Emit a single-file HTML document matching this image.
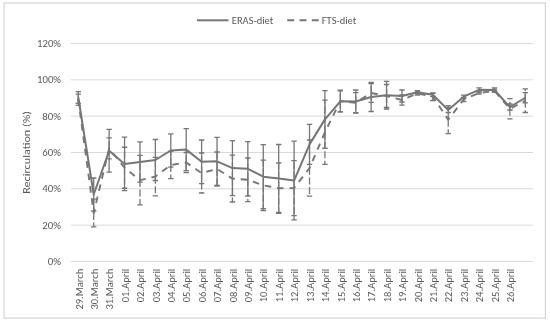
<!DOCTYPE html>
<html><head><meta charset="utf-8"><title>Recirculation chart</title><style>
html,body{margin:0;padding:0;background:#fff;overflow:hidden}
svg{display:block}
text{font-family:Carlito,"Liberation Sans",sans-serif;font-size-adjust:cap-height 0.6416;fill:#595959}
</style></head><body>
<svg width="550" height="323" viewBox="0 0 550 323">
<rect x="0" y="0" width="550" height="323" fill="#fff"/>
<rect x="4" y="3" width="541.4" height="315.1" fill="none" stroke="#d4d4d4" stroke-width="1.2"/>
<line x1="6" y1="314.5" x2="543" y2="314.5" stroke="#f7f7f7" stroke-width="1"/>
<line x1="70.60" y1="261.50" x2="533.00" y2="261.50" stroke="#d9d9d9" stroke-width="1"/>
<line x1="70.60" y1="225.17" x2="533.00" y2="225.17" stroke="#d9d9d9" stroke-width="1"/>
<line x1="70.60" y1="188.83" x2="533.00" y2="188.83" stroke="#d9d9d9" stroke-width="1"/>
<line x1="70.60" y1="152.50" x2="533.00" y2="152.50" stroke="#d9d9d9" stroke-width="1"/>
<line x1="70.60" y1="116.17" x2="533.00" y2="116.17" stroke="#d9d9d9" stroke-width="1"/>
<line x1="70.60" y1="79.83" x2="533.00" y2="79.83" stroke="#d9d9d9" stroke-width="1"/>
<line x1="70.60" y1="43.50" x2="533.00" y2="43.50" stroke="#d9d9d9" stroke-width="1"/>
<text x="61.0" y="265.10" font-size="10.5" text-anchor="end" textLength="13.33" lengthAdjust="spacingAndGlyphs">0%</text>
<text x="61.0" y="228.77" font-size="10.5" text-anchor="end" textLength="18.65" lengthAdjust="spacingAndGlyphs">20%</text>
<text x="61.0" y="192.43" font-size="10.5" text-anchor="end" textLength="18.65" lengthAdjust="spacingAndGlyphs">40%</text>
<text x="61.0" y="156.10" font-size="10.5" text-anchor="end" textLength="18.65" lengthAdjust="spacingAndGlyphs">60%</text>
<text x="61.0" y="119.77" font-size="10.5" text-anchor="end" textLength="18.65" lengthAdjust="spacingAndGlyphs">80%</text>
<text x="61.0" y="83.43" font-size="10.5" text-anchor="end" textLength="23.97" lengthAdjust="spacingAndGlyphs">100%</text>
<text x="61.0" y="47.10" font-size="10.5" text-anchor="end" textLength="23.97" lengthAdjust="spacingAndGlyphs">120%</text>
<text transform="translate(29.8,152.4) rotate(-90)" font-size="10.9" text-anchor="middle" textLength="82.89" lengthAdjust="spacingAndGlyphs">Recirculation (%)</text>
<text transform="translate(82.51,268.8) rotate(-90)" font-size="10.5" text-anchor="end" textLength="40.76" lengthAdjust="spacingAndGlyphs">29.March</text>
<text transform="translate(97.92,268.8) rotate(-90)" font-size="10.5" text-anchor="end" textLength="40.76" lengthAdjust="spacingAndGlyphs">30.March</text>
<text transform="translate(113.33,268.8) rotate(-90)" font-size="10.5" text-anchor="end" textLength="40.76" lengthAdjust="spacingAndGlyphs">31.March</text>
<text transform="translate(128.75,268.8) rotate(-90)" font-size="10.5" text-anchor="end" textLength="33.43" lengthAdjust="spacingAndGlyphs">01.April</text>
<text transform="translate(144.16,268.8) rotate(-90)" font-size="10.5" text-anchor="end" textLength="33.43" lengthAdjust="spacingAndGlyphs">02.April</text>
<text transform="translate(159.57,268.8) rotate(-90)" font-size="10.5" text-anchor="end" textLength="33.43" lengthAdjust="spacingAndGlyphs">03.April</text>
<text transform="translate(174.99,268.8) rotate(-90)" font-size="10.5" text-anchor="end" textLength="33.43" lengthAdjust="spacingAndGlyphs">04.April</text>
<text transform="translate(190.40,268.8) rotate(-90)" font-size="10.5" text-anchor="end" textLength="33.43" lengthAdjust="spacingAndGlyphs">05.April</text>
<text transform="translate(205.81,268.8) rotate(-90)" font-size="10.5" text-anchor="end" textLength="33.43" lengthAdjust="spacingAndGlyphs">06.April</text>
<text transform="translate(221.23,268.8) rotate(-90)" font-size="10.5" text-anchor="end" textLength="33.43" lengthAdjust="spacingAndGlyphs">07.April</text>
<text transform="translate(236.64,268.8) rotate(-90)" font-size="10.5" text-anchor="end" textLength="33.43" lengthAdjust="spacingAndGlyphs">08.April</text>
<text transform="translate(252.05,268.8) rotate(-90)" font-size="10.5" text-anchor="end" textLength="33.43" lengthAdjust="spacingAndGlyphs">09.April</text>
<text transform="translate(267.47,268.8) rotate(-90)" font-size="10.5" text-anchor="end" textLength="33.43" lengthAdjust="spacingAndGlyphs">10.April</text>
<text transform="translate(282.88,268.8) rotate(-90)" font-size="10.5" text-anchor="end" textLength="33.43" lengthAdjust="spacingAndGlyphs">11.April</text>
<text transform="translate(298.29,268.8) rotate(-90)" font-size="10.5" text-anchor="end" textLength="33.43" lengthAdjust="spacingAndGlyphs">12.April</text>
<text transform="translate(313.71,268.8) rotate(-90)" font-size="10.5" text-anchor="end" textLength="33.43" lengthAdjust="spacingAndGlyphs">13.April</text>
<text transform="translate(329.12,268.8) rotate(-90)" font-size="10.5" text-anchor="end" textLength="33.43" lengthAdjust="spacingAndGlyphs">14.April</text>
<text transform="translate(344.53,268.8) rotate(-90)" font-size="10.5" text-anchor="end" textLength="33.43" lengthAdjust="spacingAndGlyphs">15.April</text>
<text transform="translate(359.95,268.8) rotate(-90)" font-size="10.5" text-anchor="end" textLength="33.43" lengthAdjust="spacingAndGlyphs">16.April</text>
<text transform="translate(375.36,268.8) rotate(-90)" font-size="10.5" text-anchor="end" textLength="33.43" lengthAdjust="spacingAndGlyphs">17.April</text>
<text transform="translate(390.77,268.8) rotate(-90)" font-size="10.5" text-anchor="end" textLength="33.43" lengthAdjust="spacingAndGlyphs">18.April</text>
<text transform="translate(406.19,268.8) rotate(-90)" font-size="10.5" text-anchor="end" textLength="33.43" lengthAdjust="spacingAndGlyphs">19.April</text>
<text transform="translate(421.60,268.8) rotate(-90)" font-size="10.5" text-anchor="end" textLength="33.43" lengthAdjust="spacingAndGlyphs">20.April</text>
<text transform="translate(437.01,268.8) rotate(-90)" font-size="10.5" text-anchor="end" textLength="33.43" lengthAdjust="spacingAndGlyphs">21.April</text>
<text transform="translate(452.43,268.8) rotate(-90)" font-size="10.5" text-anchor="end" textLength="33.43" lengthAdjust="spacingAndGlyphs">22.April</text>
<text transform="translate(467.84,268.8) rotate(-90)" font-size="10.5" text-anchor="end" textLength="33.43" lengthAdjust="spacingAndGlyphs">23.April</text>
<text transform="translate(483.25,268.8) rotate(-90)" font-size="10.5" text-anchor="end" textLength="33.43" lengthAdjust="spacingAndGlyphs">24.April</text>
<text transform="translate(498.67,268.8) rotate(-90)" font-size="10.5" text-anchor="end" textLength="33.43" lengthAdjust="spacingAndGlyphs">25.April</text>
<text transform="translate(514.08,268.8) rotate(-90)" font-size="10.5" text-anchor="end" textLength="33.43" lengthAdjust="spacingAndGlyphs">26.April</text>
<path d="M78.31 99.70V94.10M78.31 99.70V105.30M93.72 213.00V199.20M93.72 213.00V226.80M109.13 148.35V137.90M109.13 148.35V158.80M124.55 167.75V147.25M124.55 167.75V188.25M139.96 180.10V155.30M139.96 180.10V204.90M155.37 176.65V157.40M155.37 176.65V195.90M170.79 165.00V151.30M170.79 165.00V178.70M186.20 162.50V152.50M186.20 162.50V172.50M201.61 173.00V153.00M201.61 173.00V193.00M217.03 169.00V152.00M217.03 169.00V186.00M232.44 178.60V155.20M232.44 178.60V202.00M247.85 179.80V158.00M247.85 179.80V201.60M263.27 185.30V160.10M263.27 185.30V210.50M278.68 188.20V163.00M278.68 188.20V213.40M294.09 188.10V160.60M294.09 188.10V215.60M309.51 168.10V140.00M309.51 168.10V196.20M324.92 132.25V100.20M324.92 132.25V164.30M340.33 101.00V90.20M340.33 101.00V111.80M355.75 102.70V92.70M355.75 102.70V112.70M371.16 93.00V83.70M371.16 93.00V102.30M386.57 96.00V84.50M386.57 96.00V107.50M401.99 100.00V94.80M401.99 100.00V105.20M417.40 93.50V92.00M417.40 93.50V95.00M432.81 96.70V92.90M432.81 96.70V100.50M448.23 119.65V105.70M448.23 119.65V133.60M463.64 99.50V97.50M463.64 99.50V101.50M479.05 93.00V92.00M479.05 93.00V94.00M494.47 91.00V90.00M494.47 91.00V92.00M509.88 108.80V98.70M509.88 108.80V118.90M525.29 100.70V88.90M525.29 100.70V112.50" stroke="#767676" stroke-width="1.3" fill="none" stroke-dasharray="7 2.5"/>
<path d="M75.61 94.10H81.01M75.61 105.30H81.01M91.02 199.20H96.42M91.02 226.80H96.42M106.43 137.90H111.83M106.43 158.80H111.83M121.85 147.25H127.25M121.85 188.25H127.25M137.26 155.30H142.66M137.26 204.90H142.66M152.67 157.40H158.07M152.67 195.90H158.07M168.09 151.30H173.49M168.09 178.70H173.49M183.50 152.50H188.90M183.50 172.50H188.90M198.91 153.00H204.31M198.91 193.00H204.31M214.33 152.00H219.73M214.33 186.00H219.73M229.74 155.20H235.14M229.74 202.00H235.14M245.15 158.00H250.55M245.15 201.60H250.55M260.57 160.10H265.97M260.57 210.50H265.97M275.98 163.00H281.38M275.98 213.40H281.38M291.39 160.60H296.79M291.39 215.60H296.79M306.81 140.00H312.21M306.81 196.20H312.21M322.22 100.20H327.62M322.22 164.30H327.62M337.63 90.20H343.03M337.63 111.80H343.03M353.05 92.70H358.45M353.05 112.70H358.45M368.46 83.70H373.86M368.46 102.30H373.86M383.87 84.50H389.27M383.87 107.50H389.27M399.29 94.80H404.69M399.29 105.20H404.69M414.70 92.00H420.10M414.70 95.00H420.10M430.11 92.90H435.51M430.11 100.50H435.51M445.53 105.70H450.93M445.53 133.60H450.93M460.94 97.50H466.34M460.94 101.50H466.34M476.35 92.00H481.75M476.35 94.00H481.75M491.77 90.00H497.17M491.77 92.00H497.17M507.18 98.70H512.58M507.18 118.90H512.58M522.59 88.90H527.99M522.59 112.50H527.99" stroke="#767676" stroke-width="1.3" fill="none"/>
<path d="M78.31 91.60V103.40M93.72 178.00V211.00M109.13 129.40V172.10M124.55 137.20V190.60M139.96 141.90V182.10M155.37 139.50V180.50M170.79 133.90V167.10M186.20 128.60V170.60M201.61 140.00V183.60M217.03 137.30V185.30M232.44 140.60V195.60M247.85 141.60V196.00M263.27 144.70V208.60M278.68 144.50V212.30M294.09 141.20V219.90M309.51 124.40V164.30M324.92 90.55V148.25M340.33 90.80V111.80M355.75 90.00V113.00M371.16 82.50V111.50M386.57 81.30V109.00M401.99 90.00V102.00M417.40 90.70V93.70M432.81 93.30V96.30M448.23 107.50V112.50M463.64 95.20V98.20M479.05 87.80V91.80M494.47 88.00V92.00M509.88 104.00V110.00M525.29 92.70V102.80" stroke="#767676" stroke-width="1.3" fill="none"/>
<path d="M75.61 91.60H81.01M75.61 103.40H81.01M91.02 178.00H96.42M91.02 211.00H96.42M106.43 129.40H111.83M106.43 172.10H111.83M121.85 137.20H127.25M121.85 190.60H127.25M137.26 141.90H142.66M137.26 182.10H142.66M152.67 139.50H158.07M152.67 180.50H158.07M168.09 133.90H173.49M168.09 167.10H173.49M183.50 128.60H188.90M183.50 170.60H188.90M198.91 140.00H204.31M198.91 183.60H204.31M214.33 137.30H219.73M214.33 185.30H219.73M229.74 140.60H235.14M229.74 195.60H235.14M245.15 141.60H250.55M245.15 196.00H250.55M260.57 144.70H265.97M260.57 208.60H265.97M275.98 144.50H281.38M275.98 212.30H281.38M291.39 141.20H296.79M291.39 219.90H296.79M306.81 124.40H312.21M306.81 164.30H312.21M322.22 90.55H327.62M322.22 148.25H327.62M337.63 90.80H343.03M337.63 111.80H343.03M353.05 90.00H358.45M353.05 113.00H358.45M368.46 82.50H373.86M368.46 111.50H373.86M383.87 81.30H389.27M383.87 109.00H389.27M399.29 90.00H404.69M399.29 102.00H404.69M414.70 90.70H420.10M414.70 93.70H420.10M430.11 93.30H435.51M430.11 96.30H435.51M445.53 107.50H450.93M445.53 112.50H450.93M460.94 95.20H466.34M460.94 98.20H466.34M476.35 87.80H481.75M476.35 91.80H481.75M491.77 88.00H497.17M491.77 92.00H497.17M507.18 104.00H512.58M507.18 110.00H512.58M522.59 92.70H527.99M522.59 102.80H527.99" stroke="#767676" stroke-width="1.3" fill="none"/>
<polyline points="78.31,99.70 93.72,213.00 109.13,148.35 124.55,167.75 139.96,180.10 155.37,176.65 170.79,165.00 186.20,162.50 201.61,173.00 217.03,169.00 232.44,178.60 247.85,179.80 263.27,185.30 278.68,188.20 294.09,188.10 309.51,168.10 324.92,132.25 340.33,101.00 355.75,102.70 371.16,93.00 386.57,96.00 401.99,100.00 417.40,93.50 432.81,96.70 448.23,119.65 463.64,99.50 479.05,93.00 494.47,91.00 509.88,108.80 525.29,100.70" fill="none" stroke="#767676" stroke-width="1.9" stroke-dasharray="6.6 5.9" stroke-dashoffset="0.4" stroke-linejoin="round"/>
<polyline points="78.31,97.50 93.72,194.50 109.13,150.75 124.55,163.90 139.96,162.00 155.37,160.00 170.79,150.50 186.20,149.60 201.61,161.80 217.03,161.30 232.44,168.10 247.85,168.80 263.27,176.65 278.68,178.40 294.09,180.55 309.51,144.35 324.92,119.40 340.33,101.30 355.75,101.50 371.16,97.00 386.57,95.15 401.99,96.00 417.40,92.20 432.81,94.80 448.23,110.00 463.64,96.70 479.05,89.80 494.47,90.00 509.88,107.00 525.29,97.75" fill="none" stroke="#767676" stroke-width="2" stroke-linejoin="round"/>
<line x1="197" y1="20.3" x2="228.5" y2="20.3" stroke="#767676" stroke-width="2"/>
<text x="231.8" y="23.5" font-size="10.5" textLength="41.51" lengthAdjust="spacingAndGlyphs">ERAS-diet</text>
<line x1="287.2" y1="20.3" x2="318.7" y2="20.3" stroke="#767676" stroke-width="2" stroke-dasharray="7 5.3"/>
<text x="321.8" y="23.5" font-size="10.5" textLength="34.49" lengthAdjust="spacingAndGlyphs">FTS-diet</text>
</svg>
</body></html>
